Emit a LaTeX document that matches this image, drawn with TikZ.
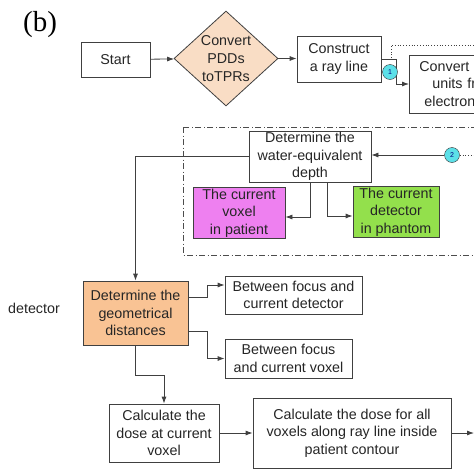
\documentclass[tikz,border=0pt]{standalone}
\usepackage{fontspec}
\setmainfont{Liberation Sans}
\newfontfamily\panelfont{Liberation Serif}
\usetikzlibrary{shapes.geometric,arrows.meta}
\definecolor{peach}{HTML}{F9DDC5}
\definecolor{apricot}{HTML}{F9C394}
\definecolor{violetfill}{HTML}{EE80F0}
\definecolor{limefill}{HTML}{93E04C}
\definecolor{markercyan}{HTML}{5CE0E8}
\begin{document}
\begin{tikzpicture}[x=1pt,y=-1pt,
      every node/.style={font=\fontsize{14.3}{17.7}\selectfont, text=black!85},
      box/.style={draw=black!75, line width=0.8pt, fill=white, align=center, inner sep=1pt},
      decision/.style={diamond, aspect=1.1, draw=black!75, line width=0.8pt, fill=peach, align=center, inner sep=0pt},
      marker/.style={circle, draw=black!80, fill=markercyan, inner sep=0pt, minimum size=15pt, font=\fontsize{7}{8}\selectfont, text=blue!50!black},
      link/.style={draw=black!75, line width=0.8pt, -{Latex[length=7pt,width=5pt]}},
      frame/.style={draw=black!70, line width=0.8pt, dash pattern=on 6pt off 2.5pt on 1pt off 2.5pt}
    ]
    \clip (0,0) rectangle (474,474);
    \node[font=\panelfont\fontsize{29}{30}\selectfont, text=black] (panel) at (40,25) {(b)};
    \node (side) at (34,308) {detector};
    \draw[frame] (183,127) rectangle (520,255);
    \node[box, minimum width=69pt, minimum height=35pt] (start) at (115.5,59.5) {Start};
    \node[decision, minimum width=104pt, minimum height=95pt] (conv) at (226,58.5) {Convert\\PDDs\\toTPRs};
    \node[box, minimum width=84pt, minimum height=46pt] (ray) at (339,59) {Construct\\a ray line};
    \node[box, anchor=west, text width=100pt, inner xsep=10pt, align=left, minimum height=58pt] (units) at (409,84) {Convert\\\hspace*{13pt}units fr\\\hspace*{5pt}electron};
    \node[box, minimum width=122pt, minimum height=51pt] (depth) at (310,156.5) {Determine the\\water-equivalent\\depth};
    \node[box, fill=violetfill, minimum width=92pt, minimum height=44pt] (voxel) at (239,213) {The current\\voxel\\in patient};
    \node[box, fill=limefill, minimum width=86pt, minimum height=46pt] (detector) at (396,212) {The current\\detector\\in phantom};
    \node[box, fill=apricot, minimum width=105pt, minimum height=64pt] (geometry) at (135.5,313) {Determine the\\geometrical\\distances};
    \node[box, minimum width=137pt, minimum height=38pt] (focusdet) at (293.5,295) {Between focus and\\current detector};
    \node[box, minimum width=127pt, minimum height=39pt] (focusvox) at (288.5,358.5) {Between focus\\and current voxel};
    \node[box, minimum width=110pt, minimum height=58pt] (dosevox) at (164,433) {Calculate the\\dose at current\\voxel};
    \node[box, minimum width=198pt, minimum height=70pt] (doseray) at (352,433) {Calculate the dose for all\\voxels along ray line inside\\patient contour};
    \coordinate (bend) at (396,59);
    \coordinate (tap) at (391,58);
    \coordinate (tapend) at (480,45);
    \coordinate (feedend) at (480,155);
    \coordinate (out) at (474,433);
    \draw[link] (start) -- (conv);
    \draw[link] (conv.east) -- (conv.east -| ray.west);
    \draw[link] (ray.east) -- (bend) |- (units.west);
    \draw[draw=black!75, line width=0.8pt, dotted] (tap) |- (tapend);
    \node[marker] (m1) at (390,72) {1};
    \node[marker] (m2) at (452,155) {2};
    \draw[draw=black!75, line width=0.8pt, dotted] (m2.east) -- (feedend);
    \draw[link] (m2.west) -- (m2.west -| depth.east);
    \draw[link] (depth.west) -| (geometry.north);
    \draw[link] (depth.south) |- ([yshift=-4pt]voxel.east);
    \draw[link] ([xshift=17pt]depth.south) |- ([yshift=-4pt]detector.west);
    \draw[link] ([yshift=16pt]geometry.east) -- ++(19,0) |- ([yshift=10pt]focusdet.west);
    \draw[link] ([yshift=-18pt]geometry.east) -- ++(19,0) |- (focusvox.west);
    \draw[link] (geometry.south) -- ++(0,30) -| (dosevox.north);
    \draw[link] (dosevox) -- (doseray);
    \draw[link] (doseray.east) -- (out);
\end{tikzpicture}
\end{document}
